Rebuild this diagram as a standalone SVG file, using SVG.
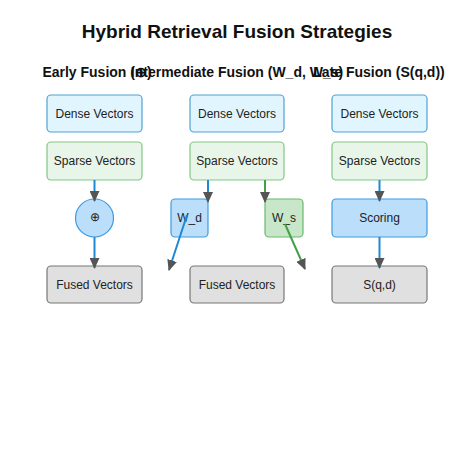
<svg xmlns="http://www.w3.org/2000/svg" width="474" height="474" viewBox="0 0 474 474">
<defs>
<marker id="ah" markerWidth="11" markerHeight="10" viewBox="0 0 11 10" refX="10" refY="5" orient="auto" markerUnits="userSpaceOnUse">
<path d="M0,0 L11,5 L0,10 z" fill="#555"/>
</marker>
<style>
.title{font-family:"Liberation Sans",Arial,sans-serif;font-size:19px;font-weight:bold;fill:#111;text-anchor:middle}
.hdr{font-family:"Liberation Sans",Arial,sans-serif;font-size:14px;font-weight:bold;fill:#111;text-anchor:middle}
.lbl{font-family:"Liberation Sans",Arial,sans-serif;font-size:12px;fill:#222;text-anchor:middle;dominant-baseline:central}
.dense{fill:#e1f5fe;stroke:#4fa3d1;stroke-width:1.2}
.sparse{fill:#e8f5e9;stroke:#81c784;stroke-width:1.2}
.op{fill:#bbdefb;stroke:#3d9be0;stroke-width:1.2}
.ops{fill:#c8e6c9;stroke:#66bb6a;stroke-width:1.2}
.out{fill:#e0e0e0;stroke:#777;stroke-width:1.2}
.cb{stroke:#1e88d5;stroke-width:2;fill:none;marker-end:url(#ah)}
.cg{stroke:#43a047;stroke-width:2;fill:none;marker-end:url(#ah)}
</style>
</defs>
<rect width="474" height="474" fill="#fff"/>
<text class="title" x="237" y="38">Hybrid Retrieval Fusion Strategies</text>
<text class="hdr" x="97" y="77">Early Fusion (⊕)</text>
<text class="hdr" x="237" y="77">Intermediate Fusion (W_d, W_s)</text>
<text class="hdr" x="379" y="77">Late Fusion (S(q,d))</text>

<g id="early-dense"><rect class="dense" x="47" y="95" width="95" height="37" rx="4"/><text class="lbl" x="94.5" y="114">Dense Vectors</text></g>
<g id="early-sparse"><rect class="sparse" x="47" y="142" width="95" height="38" rx="4"/><text class="lbl" x="94.5" y="161">Sparse Vectors</text></g>
<g id="early-op"><circle class="op" cx="94.5" cy="218" r="19"/><text class="lbl" x="94.5" y="217">⊕</text></g>
<g id="early-out"><rect class="out" x="47" y="266" width="95" height="37" rx="4"/><text class="lbl" x="94.5" y="285">Fused Vectors</text></g>

<g id="mid-dense"><rect class="dense" x="190" y="95" width="94" height="37" rx="4"/><text class="lbl" x="237" y="114">Dense Vectors</text></g>
<g id="mid-sparse"><rect class="sparse" x="190" y="142" width="94" height="38" rx="4"/><text class="lbl" x="237" y="161">Sparse Vectors</text></g>
<g id="mid-wd"><rect class="op" x="171" y="199" width="37" height="38" rx="4"/><text class="lbl" x="189.5" y="218">W_d</text></g>
<g id="mid-ws"><rect class="ops" x="265" y="199" width="38" height="38" rx="4"/><text class="lbl" x="284" y="218">W_s</text></g>
<g id="mid-out"><rect class="out" x="190" y="266" width="94" height="37" rx="4"/><text class="lbl" x="237" y="285">Fused Vectors</text></g>

<g id="late-dense"><rect class="dense" x="332" y="95" width="95" height="37" rx="4"/><text class="lbl" x="379.5" y="114">Dense Vectors</text></g>
<g id="late-sparse"><rect class="sparse" x="332" y="142" width="95" height="38" rx="4"/><text class="lbl" x="379.5" y="161">Sparse Vectors</text></g>
<g id="late-score"><rect class="op" x="332" y="199" width="95" height="38" rx="4"/><text class="lbl" x="379.5" y="218">Scoring</text></g>
<g id="late-out"><rect class="out" x="332" y="266" width="95" height="37" rx="4"/><text class="lbl" x="379.5" y="285">S(q,d)</text></g>

<g id="connectors">
<line class="cb" x1="94.5" y1="180" x2="94.5" y2="201"/>
<line class="cb" x1="94.5" y1="237" x2="94.5" y2="268"/>
<line class="cb" x1="208" y1="180" x2="208" y2="202"/>
<line class="cg" x1="265" y1="180" x2="265" y2="202"/>
<line class="cb" x1="187" y1="215" x2="169" y2="270"/>
<line class="cg" x1="285" y1="224" x2="305" y2="269"/>
<line class="cb" x1="379.5" y1="180" x2="379.5" y2="201"/>
<line class="cb" x1="379.5" y1="237" x2="379.5" y2="268"/>
</g>
</svg>
